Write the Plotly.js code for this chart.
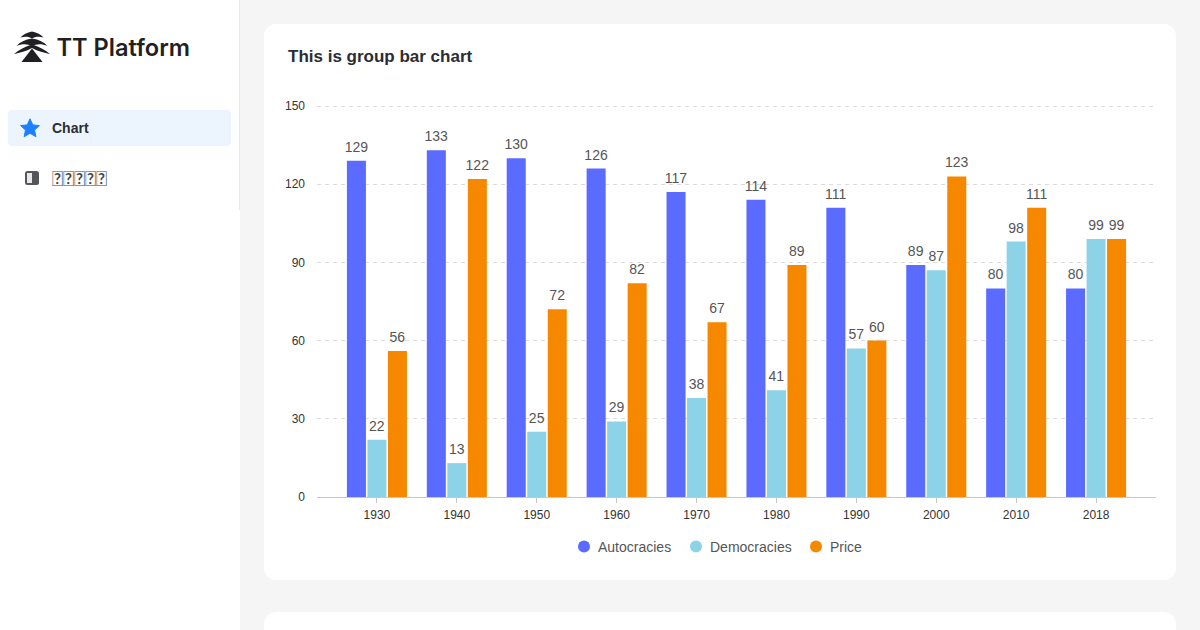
<!DOCTYPE html>
<html><head><meta charset="utf-8">
<script src="https://cdn.plot.ly/plotly-3.0.1.min.js"></script>
<style>
html,body{margin:0;padding:0;width:1200px;height:630px;overflow:hidden;background:#f5f5f5;font-family:"Liberation Sans",Arial,sans-serif}
#side{position:absolute;left:0;top:0;width:240px;height:630px;background:#fff}
#sideline{position:absolute;left:239px;top:0;width:1px;height:210px;background:#e8e8e8}
#logo{position:absolute;left:14px;top:31px}
#brand{position:absolute;left:56.5px;top:33px;font:600 23.6px/30px "Inter","Noto Sans",sans-serif;color:#1f1f24}
#active{position:absolute;left:8px;top:110px;width:223px;height:36px;background:#ecf4fe;border-radius:4px}
.mi{position:absolute;left:52px;font:700 14px/20px "Liberation Sans",sans-serif;color:#2a2d33}
.t{font-weight:400;color:#444;opacity:.99}
#card{position:absolute;left:264px;top:24px;width:912px;height:556px;background:#fff;border-radius:12px}
#card2{position:absolute;left:264px;top:612px;width:912px;height:60px;background:#fff;border-radius:12px}
#plot{position:absolute;left:0;top:0;width:912px;height:556px}
</style></head><body>
<div id="side"></div><div id="sideline"></div>
<svg id="logo" width="36" height="32" viewBox="0 0 36 32">
<path d="M18 0.5 C13 1.5 9 3.5 6.5 6.5 C11 5 15 5.5 18 7.5 C21 5.5 25 5 29.5 6.5 C27 3.5 23 1.5 18 0.5Z" fill="#1f1f24"/>
<path d="M18 7.5 C11 8.5 6 11 2.5 15 C8 12.5 14 12.5 18 15.5 C22 12.5 28 12.5 33.5 15 C30 11 25 8.5 18 7.5Z" fill="#1f1f24"/>
<path d="M18 13.5 C11 15.5 5 19 0 23 C6 21.5 12 20.5 18 17 C24 20.5 30 21.5 36 23 C31 19 25 15.5 18 13.5Z" fill="#1f1f24"/>
<path d="M18 17.5 L28.5 31 L7.5 31Z" fill="#1f1f24"/>
</svg>
<div id="brand">TT Platform</div>
<div id="active"></div>
<svg style="position:absolute;left:20px;top:118px" width="20" height="20" viewBox="0 0 20 20"><path d="M10 0.8 L12.8 6.9 L19.4 7.6 L14.5 12.1 L15.9 18.7 L10 15.3 L4.1 18.7 L5.5 12.1 L0.6 7.6 L7.2 6.9Z" fill="#1e80ff" stroke="#1e80ff" stroke-linejoin="round"/></svg>
<div class="mi" style="top:118px">Chart</div>
<svg style="position:absolute;left:25px;top:171px" width="14" height="14" viewBox="0 0 14 14"><rect x="0" y="0" width="14" height="14" rx="2.5" fill="#54565c"/><rect x="2" y="2" width="5" height="10" fill="#e8e8ea"/></svg>
<div class="mi t" style="top:168px;font-size:20.7px;font-family:'Lato'">&#x10FFFD;&#x10FFFD;&#x10FFFD;&#x10FFFD;&#x10FFFD;</div>
<div id="card"><div id="plot"></div></div>
<div id="card2"></div>
<script>
var years=['1930','1940','1950','1960','1970','1980','1990','2000','2010','2018'];
var autocracies=[129,133,130,126,117,114,111,89,80,80];
var democracies=[22,13,25,29,38,41,57,87,98,99];
var price=[56,122,72,82,67,89,60,123,111,99];
var yTicks=[0,30,60,90,120,150];
var names=['Autocracies','Democracies','Price'];
var colors=['#5b6bff','#8dd3e8','#f68800'];
var series=[autocracies,democracies,price];
var legendMarkerX=[584,696,816];
var traces=series.map(function(v,i){return {type:'bar',x:years,y:v,name:names[i],showlegend:false,
  marker:{color:colors[i]},text:v.map(String),textposition:'outside',cliponaxis:false,
  constraintext:'none',textfont:{family:'Liberation Sans',size:14,color:'#555'},hoverinfo:'x+y'};});
names.forEach(function(n,i){traces.push({type:'scatter',mode:'markers',x:[null],y:[null],name:n,
  marker:{color:colors[i],size:12,symbol:'circle'}});});
Plotly.newPlot('plot',traces,{
  width:912,height:556,paper_bgcolor:'rgba(0,0,0,0)',plot_bgcolor:'rgba(0,0,0,0)',
  barmode:'group',bargap:0.23,bargroupgap:0.073,
  margin:{l:53,r:20,t:81,b:83},
  title:{text:'<b>This is group bar chart</b>',x:24/912,xanchor:'left',y:1-32/556,yanchor:'middle',
    font:{family:'Liberation Sans',size:17,color:'#2a2d33'}},
  xaxis:{type:'category',range:[-0.75,9.75],showgrid:false,showline:true,linecolor:'#c8c8c8',linewidth:1,
    ticks:'outside',ticklen:5,tickcolor:'#c8c8c8',ticklabelstandoff:2,tickfont:{family:'Liberation Sans',size:12,color:'#333'},zeroline:false},
  yaxis:{range:[0,150.4],tickvals:yTicks,ticktext:yTicks.map(String),showline:false,zeroline:false,
    gridcolor:'#dcdcdc',griddash:'4px,4px',gridwidth:1,tickfont:{family:'Liberation Sans',size:12,color:'#333'},ticks:'',ticklabelstandoff:11},
  showlegend:true,
  legend:{orientation:'h',x:0.5,xanchor:'center',xref:'container',y:1-(541-24-10)/556,yref:'container',yanchor:'top',
    font:{family:'Liberation Sans',size:14,color:'#555'},itemwidth:30,tracegroupgap:0}
},{displayModeBar:false,staticPlot:true}).then(function(){
  var leg=document.querySelector('#plot .legend');
  document.querySelectorAll('#plot .legend .traces').forEach(function(g,i){
    var pt=g.querySelector('.legendpoints path').getBoundingClientRect();
    var dx=legendMarkerX[i]-(pt.left+pt.width/2);
    var m=/translate\(([-\d.]+),\s*([-\d.]+)\)/.exec(g.getAttribute('transform'));
    g.setAttribute('transform','translate('+(parseFloat(m[1])+dx)+','+m[2]+')');
    var t=g.querySelector('.legendtext');
    t.setAttribute('x',parseFloat(t.getAttribute('x'))-6);
  });
  var clip=leg.querySelector('.scrollbox');
  if(clip)clip.removeAttribute('clip-path');
  document.querySelectorAll('#plot .bartext').forEach(function(t){
    t.setAttribute('transform','translate(0,-3) '+(t.getAttribute('transform')||''));
  });
});
</script>
</body></html>
